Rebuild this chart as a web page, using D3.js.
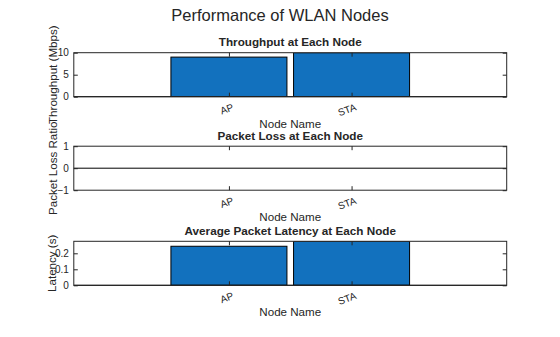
<!DOCTYPE html>
<html>
<head>
<meta charset="utf-8">
<script src="https://cdn.jsdelivr.net/npm/d3@7/dist/d3.min.js"></script>
<style>
  html, body { margin: 0; padding: 0; background: #fff; }
  svg { display: block; }
  text { font-family: "Liberation Sans", Arial, sans-serif; fill: #262626; }
</style>
</head>
<body>
<script>
// Node names shown on every x axis
const nodeNames = ["AP", "STA"];

// Per-node measurements
const throughputMbps = [9.0, 10.0];
const packetLossRatio = [0, 0];
const latencySec = [0.244, 0.275];

// Y-axis limits and ticks for each panel
const throughputDomain = [0, 10];
const throughputTicks = [0, 5, 10];
const lossDomain = [-1, 1];
const lossTicks = [-1, 0, 1];
const latencyDomain = [0, 0.275];
const latencyTicks = [0, 0.1, 0.2];

const W = 560, H = 337;
const svg = d3.select("body").append("svg").attr("width", W).attr("height", H);

svg.append("text")
  .attr("x", 280).attr("y", 20.7)
  .attr("text-anchor", "middle")
  .style("font-size", "16.5px")
  .text("Performance of WLAN Nodes");

const axLeft = 73.8, axRight = 506.7, axH = 44;
const barColor = "#1271be";
const ink = "#262626";

// category positions: 1 and 2, with padding on both sides
const x = d3.scaleLinear().domain([-0.265, 3.265]).range([axLeft, axRight]);
const barWidth = 0.946;
const tickLen = 4;

const panels = [
  { top: 52.7, title: "Throughput at Each Node", ylabel: "Throughput (Mbps)", ylx: 57,
    values: throughputMbps, domain: throughputDomain, ticks: throughputTicks, fmt: d3.format("") },
  { top: 146.2, title: "Packet Loss at Each Node", ylabel: "Packet Loss Ratio", ylx: 57,
    values: packetLossRatio, domain: lossDomain, ticks: lossTicks, fmt: d3.format("") },
  { top: 241.3, title: "Average Packet Latency at Each Node", ylabel: "Latency (s)", ylx: 56,
    values: latencySec, domain: latencyDomain, ticks: latencyTicks, fmt: d => d === 0 ? "0" : d3.format(".1f")(d) }
];

panels.forEach(p => {
  const top = p.top, bottom = p.top + axH;
  const y = d3.scaleLinear().domain(p.domain).range([bottom, top]);
  const g = svg.append("g");

  const clipId = "clip" + Math.round(top);
  svg.append("clipPath").attr("id", clipId)
    .append("rect").attr("x", axLeft).attr("y", top).attr("width", axRight - axLeft).attr("height", axH);

  // bars
  g.append("g").attr("clip-path", `url(#${clipId})`)
    .selectAll("rect").data(p.values).join("rect")
    .attr("x", (d, i) => x(i + 1 - barWidth / 2))
    .attr("width", (d, i) => x(i + 1 + barWidth / 2) - x(i + 1 - barWidth / 2))
    .attr("y", d => y(Math.max(0, d)))
    .attr("height", d => Math.abs(y(d) - y(0)))
    .attr("fill", barColor)
    .attr("stroke", "#000")
    .attr("stroke-width", 1);

  // baseline at zero
  g.append("line")
    .attr("x1", axLeft).attr("x2", axRight)
    .attr("y1", y(0)).attr("y2", y(0))
    .attr("stroke", "#000").attr("stroke-width", 1);

  // left y axis with inward ticks
  const yAxis = d3.axisLeft(y).tickValues(p.ticks).tickFormat(p.fmt)
    .tickSizeInner(-tickLen).tickSizeOuter(0).tickPadding(5);
  const ya = g.append("g").attr("transform", `translate(${axLeft},0)`).call(yAxis);
  ya.select(".domain").remove();
  ya.selectAll("line").attr("stroke", ink);
  ya.selectAll("text").style("font-size", "10px").attr("fill", ink);

  // mirrored ticks on the right
  const yr = d3.axisRight(y).tickValues(p.ticks).tickFormat("").tickSizeInner(-tickLen).tickSizeOuter(0);
  const yra = g.append("g").attr("transform", `translate(${axRight},0)`).call(yr);
  yra.select(".domain").remove();
  yra.selectAll("line").attr("stroke", ink);

  // bottom x axis with rotated category labels
  const xAxis = d3.axisBottom(x).tickValues([1, 2]).tickFormat((d, i) => nodeNames[i])
    .tickSizeInner(-tickLen).tickSizeOuter(0);
  const xa = g.append("g").attr("transform", `translate(0,${bottom})`).call(xAxis);
  xa.select(".domain").remove();
  xa.selectAll("line").attr("stroke", ink);
  xa.selectAll("text")
    .style("font-size", "10px")
    .attr("fill", ink)
    .attr("text-anchor", "end")
    .attr("dy", null)
    .attr("y", 0)
    .attr("dominant-baseline", "hanging")
    .attr("transform", "translate(2.5,6.5) rotate(-20)");

  // mirrored ticks on top
  const xt = d3.axisTop(x).tickValues([1, 2]).tickFormat("").tickSizeInner(-tickLen).tickSizeOuter(0);
  const xta = g.append("g").attr("transform", `translate(0,${top})`).call(xt);
  xta.select(".domain").remove();
  xta.selectAll("line").attr("stroke", ink);

  // box
  g.append("rect")
    .attr("x", axLeft).attr("y", top)
    .attr("width", axRight - axLeft).attr("height", axH)
    .attr("fill", "none").attr("stroke", ink).attr("stroke-width", 1);

  // panel title
  g.append("text")
    .attr("x", (axLeft + axRight) / 2).attr("y", top - 6.5)
    .attr("text-anchor", "middle")
    .style("font-size", "11.7px").style("font-weight", "bold")
    .text(p.title);

  // x label
  g.append("text")
    .attr("x", (axLeft + axRight) / 2).attr("y", bottom + 31)
    .attr("text-anchor", "middle")
    .style("font-size", "11.6px")
    .text("Node Name");

  // y label
  g.append("text")
    .attr("transform", `translate(${p.ylx},${(top + bottom) / 2}) rotate(-90)`)
    .attr("text-anchor", "middle")
    .style("font-size", "11.6px")
    .text(p.ylabel);
});
</script>
</body>
</html>
